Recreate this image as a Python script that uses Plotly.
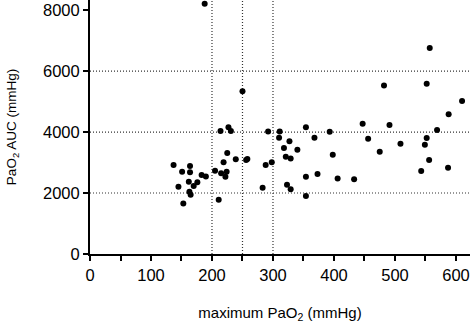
import plotly.graph_objects as go

max_pao2 = [137, 151, 164, 164, 145, 162, 176, 183, 190, 170, 163, 165, 153, 211,
            205, 215, 219, 225, 224, 222, 239, 256, 258, 288, 298, 283, 321, 329,
            323, 329, 354, 354, 373, 398, 406, 433, 475, 543, 556, 587, 292, 311,
            310, 327, 318, 340, 354, 368, 393, 482, 552, 610, 588, 447, 491, 569,
            456, 552, 549, 509, 557, 250, 188, 214, 227, 231]
pao2_auc = [2920, 2700, 2885, 2680, 2205, 2370, 2350, 2590, 2545, 2230, 2045, 1945, 1660, 1780,
            2730, 2650, 3010, 3310, 2700, 2535, 3110, 3080, 3115, 2920, 3005, 2175, 3190, 3130,
            2270, 2120, 1900, 2530, 2620, 3257, 2480, 2448, 3355, 2720, 3080, 2830, 4020, 4020,
            3813, 3695, 3480, 3420, 4160, 3813, 4011, 5530, 5585, 5020, 4580, 4270, 4230, 4066,
            3781, 3803, 3584, 3617, 6754, 5334, 8207, 4033, 4160, 4033]

x_ticks = [0, 100, 200, 300, 400, 500, 600]
y_ticks = [0, 2000, 4000, 6000, 8000]
v_refs = [200, 250, 300]
h_refs = [2000, 4000, 6000]

FONT = "Liberation Sans, Arial, sans-serif"

fig = go.Figure()
fig.add_trace(go.Scatter(x=max_pao2, y=pao2_auc, mode="markers",
                         marker=dict(color="black", size=6),
                         cliponaxis=False, showlegend=False))

for v in v_refs:
    fig.add_vline(x=v, line=dict(color="#333333", width=1.2, dash="1px,2px"), layer="below")
for h in h_refs:
    fig.add_hline(y=h, line=dict(color="#333333", width=1.2, dash="1px,2px"), layer="below")

fig.update_xaxes(range=[0, 623], tickvals=x_ticks, ticks="outside", ticklen=5, tickwidth=2,
                 tickcolor="black", showline=True, linecolor="black", linewidth=2,
                 showgrid=False, zeroline=False,
                 minor=dict(ticks="outside", dtick=50, ticklen=5, tickwidth=2, tickcolor="black"),
                 tickfont=dict(family=FONT, size=16.5, color="black"),
                 title=dict(text="maximum PaO<sub>2</sub> (mmHg)", standoff=25,
                            font=dict(family=FONT, size=15, color="black")))
fig.update_yaxes(range=[0, 8330], tickvals=y_ticks, ticks="outside", ticklen=5, tickwidth=2,
                 tickcolor="black", showline=True, linecolor="black", linewidth=2,
                 showgrid=False, zeroline=False,
                 tickfont=dict(family=FONT, size=16.5, color="black"),
                 title=dict(text="PaO<sub>2</sub> AUC (mmHg)", standoff=23,
                            font=dict(family=FONT, size=13.5, color="black")))

fig.update_layout(width=474, height=326, margin=dict(l=90, r=4, t=0, b=72),
                  plot_bgcolor="white", paper_bgcolor="white")

fig.write_html("out.html")
